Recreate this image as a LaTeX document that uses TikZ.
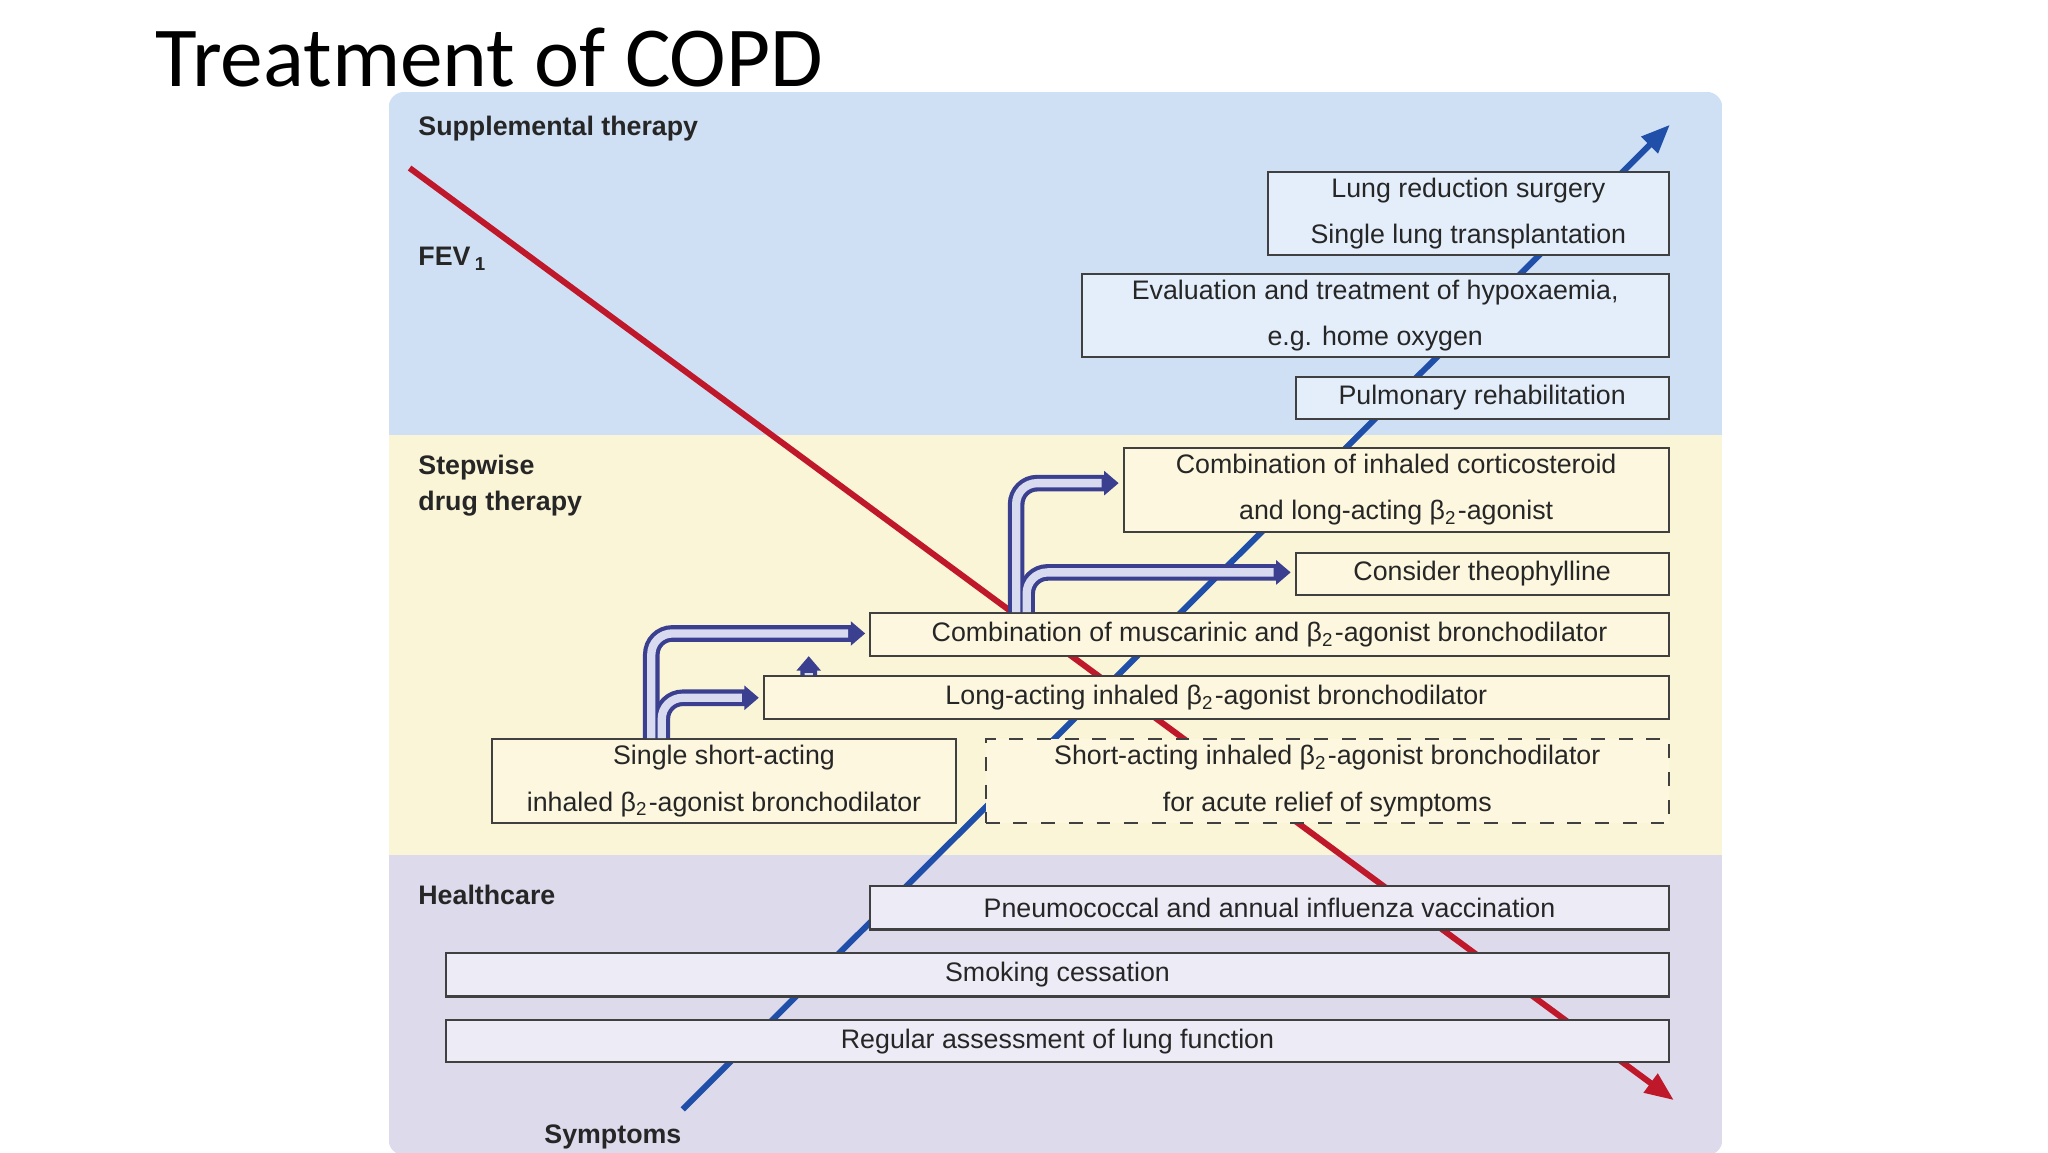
\documentclass[tikz,border=0pt]{standalone}
\usepackage{fontspec}
\setmainfont{Liberation Sans}
\newfontfamily\titlefont{Carlito}
\usetikzlibrary{arrows.meta,calc}
\definecolor{bandblue}{HTML}{CFE0F5}
\definecolor{bandyellow}{HTML}{FBF5D8}
\definecolor{bandpurple}{HTML}{DCDAEB}
\definecolor{boxblue}{HTML}{E4EEFB}
\definecolor{boxyellow}{HTML}{FCF7DE}
\definecolor{boxpurple}{HTML}{ECEBF6}
\definecolor{redline}{HTML}{C0182B}
\definecolor{blueline}{HTML}{1F4FA8}
\definecolor{flowdark}{HTML}{3A3F8F}
\definecolor{flowlight}{HTML}{D8DAF0}
\newcommand{\btwo}{β\textsubscript{2}}
\begin{document}
\begin{tikzpicture}[x=0.01cm,y=-0.01cm,
  bx/.style={draw=black!75, line width=0.45pt, inner sep=0pt, align=center, font=\fontsize{5.8pt}{8pt}\selectfont, text=black!85},
  lbl/.style={anchor=west, inner sep=0pt, font=\bfseries\fontsize{5.8pt}{7.8pt}\selectfont, align=left, text=black!85},
  flowout/.style={draw=flowdark, line width=3.6pt, rounded corners=0.16cm, -{Triangle[length=0.11cm,width=0.18cm]}},
  flowin/.style={draw=flowlight, line width=1.8pt, rounded corners=0.16cm, shorten >=0.13cm},
  trend/.style={line width=1.3pt, -{Triangle[length=0.22cm,width=0.17cm]}}]
\useasboundingbox (0,0) rectangle (1560,878);
\fill[white] (0,0) rectangle (1560,878);
\node[anchor=west, inner sep=0pt, font=\titlefont\fontsize{18.5pt}{20pt}\selectfont] (title) at (118,44) {Treatment of COPD};
% bands
\begin{scope}
\clip[rounded corners=0.12cm] (296,70) rectangle (1312,880);
\fill[bandblue] (296,70) rectangle (1312,331);
\fill[bandyellow] (296,331) rectangle (1312,651);
\fill[bandpurple] (296,651) rectangle (1312,880);
\end{scope}
% trend lines
\coordinate (fevs) at (312,128);
\coordinate (feve) at (1275,838);
\coordinate (syms) at (520,845);
\coordinate (syme) at (1272,95);
\draw[trend, redline] (fevs) -- (feve);
\draw[trend, blueline] (syms) -- (syme);
% labels
\node[lbl] (sup) at (318,98) {Supplemental therapy};
\node[lbl] (fev) at (318,197) {FEV\,\textsubscript{1}};
\node[lbl, anchor=north west] (step) at (318,346) {Stepwise\\drug therapy};
\node[lbl] (hc) at (318,682) {Healthcare};
\node[lbl] (symp) at (414,866) {Symptoms};
% boxes
\node[bx, fill=boxblue, minimum width=3.05cm, minimum height=0.63cm] (lung) at (1118.5,162.5) {Lung reduction surgery\\[2pt]Single lung transplantation};
\node[bx, fill=boxblue, minimum width=4.47cm, minimum height=0.63cm] (eval) at (1047.5,240.5) {Evaluation and treatment of hypoxaemia,\\[2pt]e.g. home oxygen};
\node[bx, fill=boxblue, minimum width=2.84cm, minimum height=0.32cm] (pulm) at (1129,303) {Pulmonary rehabilitation};
\node[bx, fill=boxyellow, minimum width=4.15cm, minimum height=0.64cm] (ics) at (1063.5,373) {Combination of inhaled corticosteroid\\[2pt]and long-acting \btwo-agonist};
\node[bx, fill=boxyellow, minimum width=2.84cm, minimum height=0.32cm] (theo) at (1129,437) {Consider theophylline};
\node[bx, fill=boxyellow, minimum width=6.08cm, minimum height=0.33cm] (musc) at (967,483.5) {Combination of muscarinic and \btwo-agonist bronchodilator};
\node[bx, fill=boxyellow, minimum width=6.89cm, minimum height=0.33cm] (long) at (926.5,531.5) {Long-acting inhaled \btwo-agonist bronchodilator};
\node[bx, fill=boxyellow, minimum width=3.53cm, minimum height=0.64cm] (single) at (551.5,595) {Single short-acting\\[2pt]inhaled \btwo-agonist bronchodilator};
\node[bx, fill=boxyellow, dashed, minimum width=5.20cm, minimum height=0.64cm] (short) at (1011,595) {Short-acting inhaled \btwo-agonist bronchodilator\\[2pt]for acute relief of symptoms};
\node[bx, fill=boxpurple, minimum width=6.08cm, minimum height=0.33cm] (pneu) at (967,691.5) {Pneumococcal and annual influenza vaccination};
\node[bx, fill=boxpurple, minimum width=9.31cm, minimum height=0.33cm] (smok) at (805.5,742.5) {Smoking cessation};
\node[bx, fill=boxpurple, minimum width=9.31cm, minimum height=0.32cm] (reg) at (805.5,793) {Regular assessment of lung function};
% flow arrows
\foreach \s in {flowout,flowin}{
  \draw[\s] ($(single.north west)+(122,0)$) |- ($(musc.west)+(-3,-1)$);
  \draw[\s] ($(single.north west)+(130,0)$) |- ($(long.west)+(-3,0)$);
  \draw[\s, rounded corners=0] ($(long.north west)+(35,0)$) -- ($(musc.south west)+(-46,-1)$);
  \draw[\s] ($(musc.north west)+(112,0)$) |- ($(ics.west)+(-3,-5)$);
  \draw[\s] ($(musc.north west)+(120,0)$) |- ($(theo.west)+(-3,-1)$);
}
\end{tikzpicture}
\end{document}
